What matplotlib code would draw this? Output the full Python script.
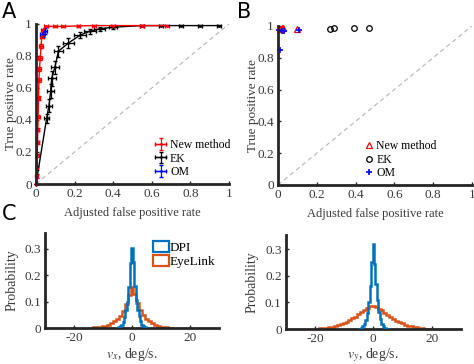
#!/usr/bin/env python3
# -*- coding: utf-8 -*-

import numpy as np
import matplotlib
matplotlib.use("Agg")
import matplotlib.pyplot as plt
from matplotlib.patches import Patch
from matplotlib.lines import Line2D

plt.rcParams['font.family'] = ['Liberation Serif', 'DejaVu Serif']
plt.rcParams['mathtext.fontset'] = 'stix'

AXIS_COLOR = '#262626'
TEXT_COLOR = '#3a3a3a'
BLUE = '#0072BD'
ORANGE = '#D95319'

###########################
### Panel A: ROC curves ###
###########################

new_x = [0.0, 0.003, 0.005, 0.006, 0.008, 0.009, 0.011, 0.013, 0.015, 0.018, 0.022,
         0.026, 0.03, 0.036, 0.05, 0.1, 0.14, 0.22, 0.3, 0.4, 0.55, 0.68]
new_y = [0.0, 0.05, 0.1, 0.18, 0.26, 0.34, 0.42, 0.54, 0.65, 0.72, 0.79,
         0.86, 0.92, 0.96, 0.985, 0.985, 0.985, 0.988, 0.99, 0.99, 0.99, 0.99]
new_xerr = [0.0, 0.006, 0.006, 0.007, 0.007, 0.008, 0.008, 0.008, 0.009, 0.009, 0.01,
            0.01, 0.01, 0.01, 0.01, 0.01, 0.01, 0.01, 0.01, 0.01, 0.01, 0.01]
new_yerr = [0.0, 0.01, 0.01, 0.01, 0.01, 0.01, 0.01, 0.012, 0.012, 0.012, 0.012,
            0.012, 0.01, 0.01, 0.005, 0.005, 0.005, 0.005, 0.005, 0.005, 0.005, 0.005]

ek_x = [0.0, 0.055, 0.067, 0.076, 0.081, 0.098, 0.116, 0.167, 0.228, 0.28, 0.33,
        0.4, 0.55, 0.65, 0.75, 0.85, 0.95]
ek_y = [0.0, 0.41, 0.49, 0.58, 0.66, 0.73, 0.83, 0.88, 0.93, 0.955, 0.97,
        0.98, 0.99, 0.99, 0.99, 0.99, 0.99]
ek_xerr = [0.0, 0.012, 0.015, 0.018, 0.02, 0.022, 0.025, 0.028, 0.03, 0.03, 0.03,
           0.02, 0.01, 0.01, 0.01, 0.01, 0.01]
ek_yerr = [0.0, 0.03, 0.04, 0.045, 0.045, 0.04, 0.035, 0.03, 0.02, 0.015, 0.012,
           0.01, 0.005, 0.005, 0.005, 0.005, 0.005]

om_x = [0.035, 0.045]
om_y = [0.94, 0.955]
om_xerr = [0.012, 0.012]
om_yerr = [0.02, 0.02]

#####################################
### Panel B: single operating pts ###
#####################################

b_new_x = [0.01, 0.02, 0.025, 0.1]
b_new_y = [0.98, 0.99, 0.985, 0.98]
b_ek_x = [0.27, 0.29, 0.39, 0.47]
b_ek_y = [0.98, 0.985, 0.99, 0.99]
b_om_x = [0.005, 0.02, 0.03, 0.11, 0.01]
b_om_y = [0.975, 0.97, 0.97, 0.975, 0.85]

####################################
### Panel C: velocity histograms ###
####################################

dpi_centers = [-5.0, -4.5, -4.0, -3.5, -3.0, -2.5, -2.0, -1.5, -1.0, -0.5, 0.0,
               0.5, 1.0, 1.5, 2.0, 2.5, 3.0, 3.5, 4.0, 4.5, 5.0]
dpi_vx = [0.001, 0.003, 0.006, 0.012, 0.022, 0.04, 0.07, 0.1, 0.155, 0.245, 0.302,
          0.25, 0.16, 0.105, 0.07, 0.045, 0.025, 0.013, 0.007, 0.003, 0.001]
dpi_vy = [0.001, 0.002, 0.005, 0.01, 0.02, 0.035, 0.06, 0.1, 0.16, 0.25, 0.32,
          0.245, 0.17, 0.11, 0.065, 0.038, 0.02, 0.01, 0.005, 0.002, 0.001]

el_centers_x = list(range(-14, 15))
el_vx = [0.001, 0.002, 0.003, 0.004, 0.006, 0.009, 0.013, 0.018, 0.025, 0.034,
         0.047, 0.065, 0.09, 0.125, 0.155, 0.13, 0.095, 0.068, 0.048, 0.035,
         0.025, 0.018, 0.012, 0.008, 0.005, 0.003, 0.002, 0.001, 0.001]
el_centers_y = list(range(-20, 21))
el_vy = [0.001, 0.002, 0.003, 0.004, 0.005, 0.007, 0.009, 0.011, 0.014, 0.018,
         0.022, 0.027, 0.033, 0.04, 0.047, 0.055, 0.063, 0.071, 0.078, 0.085,
         0.088, 0.084, 0.077, 0.07, 0.062, 0.054, 0.046, 0.039, 0.032, 0.026,
         0.021, 0.017, 0.013, 0.01, 0.008, 0.006, 0.004, 0.003, 0.002, 0.001, 0.001]


def edges_from(centers):
    c = np.asarray(centers, dtype=float)
    w = c[1] - c[0]
    return np.append(c - w / 2, c[-1] + w / 2)


def style_axes(ax):
    for side in ('top', 'right'):
        ax.spines[side].set_visible(False)
    for side in ('left', 'bottom'):
        ax.spines[side].set_color(AXIS_COLOR)
        ax.spines[side].set_linewidth(2.0)
    ax.tick_params(direction='in', length=2.5, width=1, colors=AXIS_COLOR,
                   labelcolor=TEXT_COLOR, labelsize=9.5, pad=3)


def roc_axes(ax, ylabel_x):
    style_axes(ax)
    ax.plot([0, 1], [0, 1], ls=(0, (4, 3)), color='#b5b5b5', lw=0.8, zorder=0)
    ax.set_xlim(0, 1)
    ax.set_ylim(0, 1)
    ticks = [0, 0.2, 0.4, 0.6, 0.8, 1]
    labels = ['0', '0.2', '0.4', '0.6', '0.8', '1']
    ax.set_xticks(ticks)
    ax.set_xticklabels(labels)
    ax.set_yticks(ticks)
    ax.set_yticklabels(labels)
    ax.set_xlabel('Adjusted false positive rate', fontsize=9, color=TEXT_COLOR, labelpad=5)
    ax.set_ylabel('True positive rate', fontsize=9.5, color=TEXT_COLOR)
    ax.yaxis.set_label_coords(ylabel_x, 0.5)


def hist_axes(ax, ymax, xlabel, ylabel_x):
    style_axes(ax)
    ax.set_xlim(-30, 30)
    ax.set_ylim(0, ymax)
    ax.set_xticks([-20, 0, 20])
    ax.set_xticklabels(['-20', '0', '20'])
    ax.set_yticks([0, 0.1, 0.2, 0.3])
    ax.set_yticklabels(['0', '0.1', '0.2', '0.3'])
    ax.set_xlabel(xlabel, fontsize=10, color=TEXT_COLOR, labelpad=1)
    ax.set_ylabel('Probability', fontsize=10, color=TEXT_COLOR)
    ax.yaxis.set_label_coords(ylabel_x, 0.5)


fig = plt.figure(figsize=(4.74, 3.64), dpi=100)

# Panel A
axA = fig.add_axes([0.076, 0.4945, 0.407, 0.4396])
roc_axes(axA, -0.10)
ek = axA.errorbar(ek_x, ek_y, xerr=ek_xerr, yerr=ek_yerr, color='black', lw=1,
                  elinewidth=0.9, capsize=1.5, marker='.', ms=2, clip_on=False, label='EK')
nm = axA.errorbar(new_x, new_y, xerr=new_xerr, yerr=new_yerr, color='#ff0000', lw=1,
                  elinewidth=0.9, capsize=1.5, marker='.', ms=2, clip_on=False,
                  label='New method')
om = axA.errorbar(om_x, om_y, xerr=om_xerr, yerr=om_yerr, color='#0000ff', lw=1,
                  elinewidth=0.9, capsize=1.5, marker='.', ms=2, clip_on=False, label='OM')
axA.legend([nm, ek, om], ['New method', 'EK', 'OM'], loc='lower left', frameon=False,
           fontsize=8.5, handlelength=1.0, handletextpad=0.3, labelspacing=0.15,
           borderaxespad=0.0, borderpad=0.0, bbox_to_anchor=(0.615, 0.035))

# Panel B
axB = fig.add_axes([0.5865, 0.4918, 0.409, 0.4368])
roc_axes(axB, -0.10)
axB.plot(b_new_x, b_new_y, ls='none', marker='^', mfc='none', mec='#ff0000', ms=4,
         mew=0.9, clip_on=False)
axB.plot(b_ek_x, b_ek_y, ls='none', marker='o', mfc='none', mec='black', ms=4,
         mew=0.9, clip_on=False)
axB.plot(b_om_x, b_om_y, ls='none', marker='+', color='#0000ff', ms=4, mew=1.2,
         clip_on=False)
handles_b = [
    Line2D([], [], ls='none', marker='^', mfc='none', mec='#ff0000', ms=4, mew=0.9),
    Line2D([], [], ls='none', marker='o', mfc='none', mec='black', ms=4, mew=0.9),
    Line2D([], [], ls='none', marker='+', color='#0000ff', ms=4, mew=1.2),
]
axB.legend(handles_b, ['New method', 'EK', 'OM'], loc='lower left', frameon=False,
           fontsize=8.5, handlelength=1.0, handletextpad=0.1, labelspacing=0.15,
           borderaxespad=0.0, borderpad=0.0, bbox_to_anchor=(0.44, 0.035))

# Panel C (vx)
axC = fig.add_axes([0.095, 0.0989, 0.367, 0.261])
hist_axes(axC, 0.36, r'$v_x$, deg/s.', -0.155)
axC.stairs(dpi_vx, edges_from(dpi_centers), color=BLUE, lw=1.8, zorder=3)
axC.stairs(el_vx, edges_from(el_centers_x), color=ORANGE, lw=1.8, zorder=2)
handles_c = [Patch(facecolor='none', edgecolor=BLUE, lw=1.6),
             Patch(facecolor='none', edgecolor=ORANGE, lw=1.6)]
axC.legend(handles_c, ['DPI', 'EyeLink'], loc='upper left', frameon=False, fontsize=9.5,
           handlelength=1.2, handleheight=0.9, handletextpad=0.1, labelspacing=0.1,
           borderaxespad=0.0, borderpad=0.0, bbox_to_anchor=(0.62, 0.92))

# Panel D (vy)
axD = fig.add_axes([0.603, 0.096, 0.369, 0.258])
hist_axes(axD, 0.352, r'$v_y$, deg/s.', -0.155)
axD.stairs(dpi_vy, edges_from(dpi_centers), color=BLUE, lw=1.8, zorder=3)
axD.stairs(el_vy, edges_from(el_centers_y), color=ORANGE, lw=1.8, zorder=2)

# Panel letters
for letter, x, y in [('A', 0.003, 0.995), ('B', 0.5, 0.995), ('C', 0.003, 0.44)]:
    fig.text(x, y, letter, fontsize=15, family='DejaVu Sans', ha='left', va='top',
             color='black')

fig.savefig('out.png', dpi=100)
